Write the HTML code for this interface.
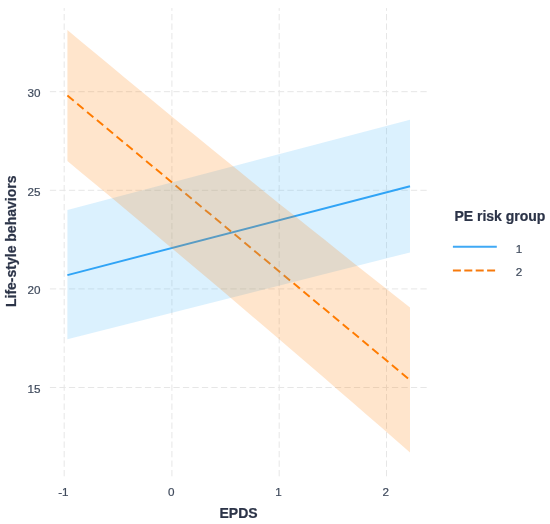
<!DOCTYPE html>
<html>
<head>
<meta charset="utf-8">
<title>Life-style behaviors by EPDS and PE risk group</title>
<style>
  html, body { margin: 0; padding: 0; background: #ffffff; }
  body { width: 550px; height: 524px; overflow: hidden; }
  svg { display: block; }
  .tick { font-family: "Liberation Sans", Arial, sans-serif; font-size: 11.7px; fill: #3f4a5c; stroke: #3f4a5c; stroke-width: 0.2px; }
  .title { font-family: "Liberation Sans", Arial, sans-serif; font-size: 14px; font-weight: bold; fill: #2c3448; stroke: #2c3448; stroke-width: 0.22px; }
  .grid { stroke: #e6e6e6; stroke-width: 1; stroke-dasharray: 6.3 3.2; fill: none; }
</style>
</head>
<body>
<svg width="550" height="524" viewBox="0 0 550 524">
  <rect x="0" y="0" width="550" height="524" fill="#ffffff"/>

  <!-- grid lines -->
  <g class="grid">
    <line x1="49.9" y1="91.7" x2="427.2" y2="91.7"/>
    <line x1="49.9" y1="190.3" x2="427.2" y2="190.3"/>
    <line x1="49.9" y1="288.9" x2="427.2" y2="288.9"/>
    <line x1="49.9" y1="387.5" x2="427.2" y2="387.5"/>
    <line x1="64.2" y1="476.3" x2="64.2" y2="8.1"/>
    <line x1="171.9" y1="476.3" x2="171.9" y2="8.1"/>
    <line x1="279.2" y1="476.3" x2="279.2" y2="8.1"/>
    <line x1="386.5" y1="476.3" x2="386.5" y2="8.1"/>
  </g>

  <!-- fitted lines -->
  <line x1="67.4" y1="275.1" x2="410" y2="186.2" stroke="#2a9ff5" stroke-width="1.95"/>
  <line x1="67.4" y1="95.6" x2="410" y2="380" stroke="#ff7b00" stroke-width="1.95" stroke-dasharray="8.2 4.58"/>

  <!-- confidence ribbons -->
  <polygon points="67.4,210 410,119.7 410,252.4 67.4,339.3" fill="#49b7fc" fill-opacity="0.2"/>
  <polygon points="67.4,30.0 81.7,41.9 96.0,53.8 110.2,65.6 124.5,77.4 138.8,89.2 153.1,101.0 167.3,112.7 181.6,124.4 195.9,136.0 210.2,147.7 224.4,159.3 238.7,170.8 253.0,182.4 267.2,193.9 281.5,205.4 295.8,216.8 310.1,228.2 324.4,239.6 338.6,251.0 352.9,262.4 367.2,273.7 381.5,285.0 395.7,296.3 410.0,307.5 410.0,452.5 395.7,440.1 381.5,427.6 367.2,415.2 352.9,402.8 338.6,390.5 324.4,378.1 310.1,365.8 295.8,353.6 281.5,341.3 267.2,329.1 253.0,316.9 238.7,304.7 224.4,292.6 210.2,280.5 195.9,268.4 181.6,256.4 167.3,244.4 153.1,232.4 138.8,220.4 124.5,208.5 110.2,196.6 96.0,184.8 81.7,172.9 67.4,161.1" fill="#ff7b00" fill-opacity="0.2"/>

  <!-- y tick labels -->
  <g class="tick" text-anchor="end">
    <text x="40.4" y="97.2">30</text>
    <text x="40.4" y="195.8">25</text>
    <text x="40.4" y="294.4">20</text>
    <text x="40.4" y="393">15</text>
  </g>

  <!-- x tick labels -->
  <g class="tick" text-anchor="middle">
    <text x="63.4" y="496.2">-1</text>
    <text x="171.2" y="496.2">0</text>
    <text x="278.6" y="496.2">1</text>
    <text x="385.8" y="496.2">2</text>
  </g>

  <!-- axis titles -->
  <text class="title" text-anchor="middle" x="238.6" y="518.2">EPDS</text>
  <text class="title" text-anchor="middle" transform="translate(16.4,241.3) rotate(-90)">Life-style behaviors</text>

  <!-- legend -->
  <text class="title" x="454.4" y="221.4">PE risk group</text>
  <line x1="452.9" y1="246.8" x2="496.8" y2="246.8" stroke="#3fa9f5" stroke-width="2"/>
  <line x1="452.9" y1="270.5" x2="496.8" y2="270.5" stroke="#f77a0c" stroke-width="2" stroke-dasharray="8 3.4"/>
  <text class="tick" x="515.8" y="252.5">1</text>
  <text class="tick" x="515.8" y="276.1">2</text>
</svg>
</body>
</html>
